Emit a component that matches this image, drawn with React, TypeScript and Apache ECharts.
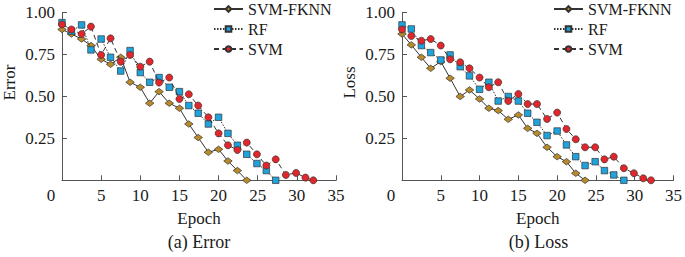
import React, { useEffect, useRef } from "react";
import * as echarts from "echarts";

const epochs = [0, 1.2, 2.5, 3.7, 5.0, 6.2, 7.5, 8.7, 10.0, 11.2, 12.4, 13.7, 15.0, 16.2, 17.4, 18.7, 20.0, 21.2, 22.4, 23.6, 24.9, 26.1, 27.3, 28.6, 29.9, 31.1, 32.1];

const errorFKNN = [0.90, 0.873, 0.843, 0.804, 0.722, 0.692, 0.734, 0.585, 0.555, 0.46, 0.529, 0.46, 0.43, 0.336, 0.255, 0.167, 0.185, 0.115, 0.058, 0.0];
const errorRF = [0.941, 0.89, 0.927, 0.778, 0.843, 0.734, 0.652, 0.774, 0.643, 0.585, 0.613, 0.555, 0.529, 0.446, 0.40, 0.336, 0.376, 0.28, 0.209, 0.155, 0.10, 0.058, 0.0];
const errorSVM = [0.93, 0.90, 0.873, 0.917, 0.748, 0.847, 0.708, 0.748, 0.678, 0.708, 0.583, 0.613, 0.485, 0.513, 0.446, 0.376, 0.28, 0.209, 0.181, 0.225, 0.155, 0.088, 0.125, 0.032, 0.044, 0.016, 0.0];

const lossFKNN = [0.873, 0.808, 0.734, 0.668, 0.708, 0.609, 0.50, 0.539, 0.485, 0.43, 0.416, 0.364, 0.39, 0.31, 0.28, 0.197, 0.141, 0.111, 0.042, 0.0];
const lossRF = [0.927, 0.903, 0.804, 0.762, 0.718, 0.748, 0.678, 0.623, 0.543, 0.585, 0.473, 0.50, 0.473, 0.40, 0.346, 0.267, 0.294, 0.211, 0.141, 0.088, 0.111, 0.058, 0.032, 0.0];
const lossSVM = [0.90, 0.861, 0.833, 0.843, 0.804, 0.722, 0.704, 0.668, 0.613, 0.555, 0.585, 0.473, 0.515, 0.455, 0.455, 0.366, 0.404, 0.306, 0.245, 0.197, 0.197, 0.125, 0.141, 0.072, 0.042, 0.012, 0.0];

const seriesNames = ["SVM-FKNN", "RF", "SVM"];
const yTicks = ["1.00", "0.75", "0.50", "0.25"];
const yNames = ["Error", "Loss"];
const captions = ["(a) Error", "(b) Loss"];

const FONT = "Liberation Serif";
const TXT = "#1a1a1a";
const AX = "#555";

function pairs(vals: number[]) {
  return vals.map((v, i) => [epochs[i], v]);
}

export default function App() {
  const ref = useRef<HTMLDivElement>(null);
  useEffect(() => {
    if (!ref.current) return;
    const chart = echarts.init(ref.current, null, { renderer: "svg" });

    const grids = [
      { left: 62, top: 12.7, width: 274, height: 167.6 },
      { left: 402, top: 12.7, width: 273, height: 167.6 },
    ];

    const xAxes = grids.map((_, gi) => ({
      type: "value",
      gridIndex: gi,
      min: 0,
      max: 35,
      interval: 5,
      name: "Epoch",
      nameLocation: "middle",
      nameGap: 30,
      nameTextStyle: { fontFamily: FONT, fontSize: 17, color: TXT },
      axisLine: { show: true, lineStyle: { color: AX, width: 1 } },
      axisTick: { show: true, inside: true, length: 5, lineStyle: { color: AX } },
      splitLine: { show: false },
      axisLabel: {
        margin: 7,
        fontFamily: FONT,
        fontSize: 17,
        color: TXT,
        formatter: (v: number) => (v === 0 ? "{z|0}" : String(v)),
        rich: { z: { fontFamily: FONT, fontSize: 17, color: TXT, padding: [0, 22, 0, 0] } },
      },
    }));

    const yAxes = grids.map((_, gi) => ({
      type: "value",
      gridIndex: gi,
      min: 0,
      max: 1,
      interval: 0.25,
      name: yNames[gi],
      nameLocation: "middle",
      nameGap: 44,
      nameTextStyle: { fontFamily: FONT, fontSize: 17, color: TXT, padding: [0, 0, 0, 28] },
      axisLine: { show: true, lineStyle: { color: AX, width: 1 } },
      axisTick: { show: true, inside: true, length: 5, lineStyle: { color: AX } },
      splitLine: { show: false },
      axisLabel: {
        margin: 7,
        fontFamily: FONT,
        fontSize: 17,
        color: TXT,
        formatter: (v: number) => {
          const s = v.toFixed(2);
          return yTicks.indexOf(s) >= 0 ? s : "";
        },
      },
    }));

    const styles = [
      { symbol: "diamond", symbolSize: [8.5, 6.5], color: "#b88a2a", line: "solid" as any },
      { symbol: "rect", symbolSize: 6.5, color: "#1fa3dd", line: [1.5, 1.5] as any },
      { symbol: "circle", symbolSize: 7, color: "#e3262b", line: [5, 3.5] as any },
    ];

    const data = [
      [errorFKNN, errorRF, errorSVM],
      [lossFKNN, lossRF, lossSVM],
    ];

    const series: any[] = [];
    data.forEach((group, gi) => {
      group.forEach((vals, si) => {
        const st = styles[si];
        series.push({
          type: "line",
          name: seriesNames[si],
          xAxisIndex: gi,
          yAxisIndex: gi,
          data: pairs(vals),
          symbol: st.symbol,
          symbolSize: st.symbolSize,
          showAllSymbol: true,
          lineStyle: { color: "#333", width: 1, type: st.line },
          itemStyle: { color: st.color, borderColor: "#333", borderWidth: 0.7 },
          z: 2 + si,
        });
      });
    });

    const legends = [213, 553].map((left) => ({
      orient: "vertical",
      left,
      top: 0,
      padding: 0,
      itemGap: 2,
      itemWidth: 29,
      itemHeight: 7,
      data: seriesNames,
      textStyle: { fontFamily: FONT, fontSize: 16, color: TXT, lineHeight: 18 },
      selectedMode: false,
    }));

    chart.setOption({
      animation: false,
      backgroundColor: "#fff",
      textStyle: { fontFamily: FONT },
      grid: grids,
      xAxis: xAxes,
      yAxis: yAxes,
      legend: legends,
      title: captions.map((t, i) => ({
        text: t,
        left: i === 0 ? 199 : 538.5,
        top: 233,
        textAlign: "center",
        padding: 0,
        textStyle: { fontFamily: FONT, fontSize: 18, fontWeight: "normal", color: TXT },
      })),
      series,
    } as any);

    return () => chart.dispose();
  }, []);

  return (
    <div
      ref={ref}
      style={{ position: "absolute", left: 0, top: 0, width: 685, height: 257, background: "#fff" }}
    />
  );
}
